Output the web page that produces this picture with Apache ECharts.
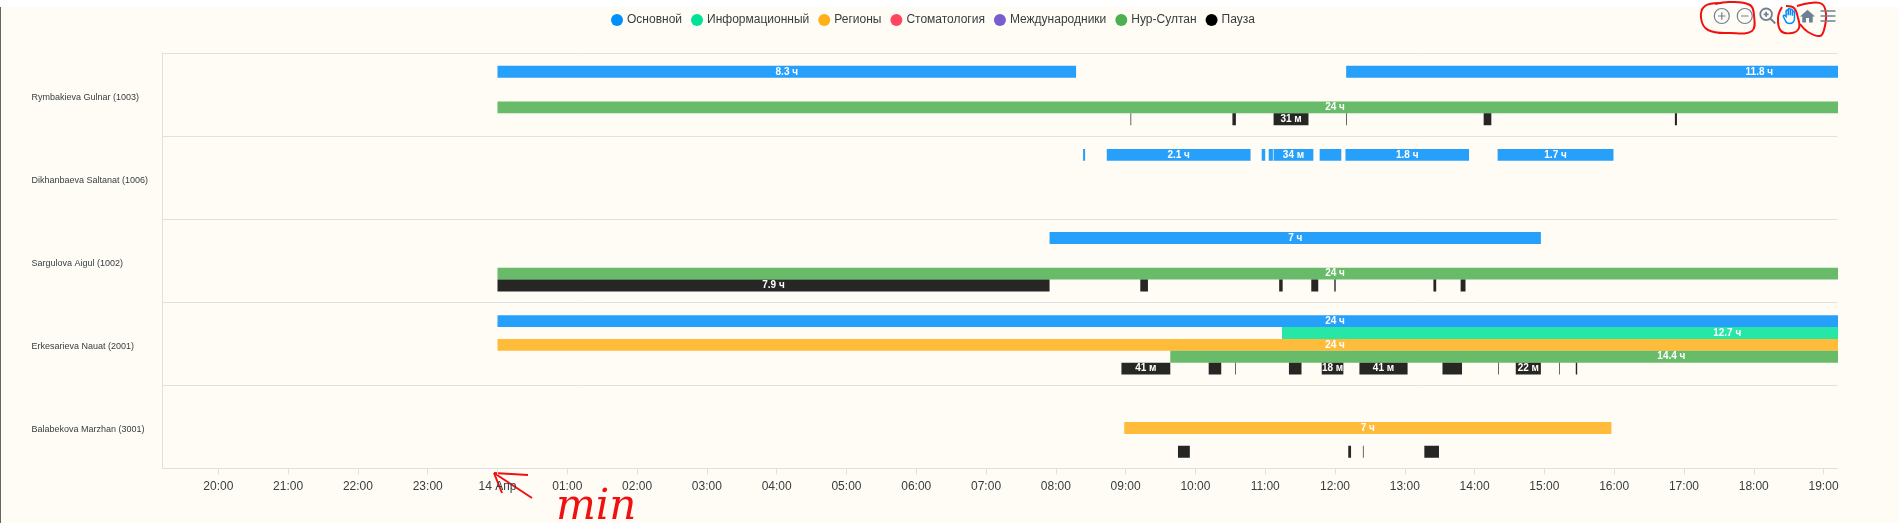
<!DOCTYPE html>
<html>
<head>
<meta charset="utf-8">
<style>
  html, body { margin: 0; padding: 0; background: #fff; overflow: hidden; }
  #paper { position: absolute; left: 0; top: 7px; width: 1897px; height: 516px; background: #fffcf5; border-left: 1px solid #666; }
  #chart { position: absolute; left: 0; top: 0; width: 1898px; height: 527px; }
</style>
</head>
<body>
<div id="paper"></div>
<div id="chart"></div>
<script src="https://cdn.jsdelivr.net/npm/echarts@6/dist/echarts.min.js"></script>
<script>
// hours are counted from 00:00 of 14 Apr, the axis runs 19:12 -> 19:12
var operators = ['Rymbakieva Gulnar (1003)', 'Dikhanbaeva Saltanat (1006)', 'Sargulova Aigul (1002)', 'Erkesarieva Nauat (2001)', 'Balabekova Marzhan (3001)'];
var tickHours = [-4, -3, -2, -1, 0, 1, 2, 3, 4, 5, 6, 7, 8, 9, 10, 11, 12, 13, 14, 15, 16, 17, 18, 19];
var tickLabels = ['20:00', '21:00', '22:00', '23:00', '14 Апр', '01:00', '02:00', '03:00', '04:00', '05:00', '06:00', '07:00', '08:00', '09:00', '10:00', '11:00', '12:00', '13:00', '14:00', '15:00', '16:00', '17:00', '18:00', '19:00'];
var axisMin = -4.8, axisMax = 19.2;

// [row, start, end, label]
var osnovnoy = [
  [0, 0, 8.29, '8.3 ч'], [0, 12.16, 24, '11.8 ч'],
  [1, 8.39, 8.42, ''], [1, 8.73, 10.79, '2.1 ч'], [1, 10.95, 11.0, ''], [1, 11.05, 11.11, ''], [1, 11.12, 11.69, '34 м'],
  [1, 11.78, 12.09, ''], [1, 12.15, 13.92, '1.8 ч'], [1, 14.33, 15.99, '1.7 ч'],
  [2, 7.91, 14.95, '7 ч'],
  [3, 0, 24, '24 ч']
];
var informatsionny = [[3, 11.24, 24, '12.7 ч']];
var regiony = [[3, 0, 24, '24 ч'], [4, 8.98, 15.96, '7 ч']];
var stomatologiya = [];
var mezhdunarodniki = [];
var nurSultan = [[0, 0, 24, '24 ч'], [2, 0, 24, '24 ч'], [3, 9.64, 24, '14.4 ч']];
var pauza = [
  [0, 9.07, 9.08, ''], [0, 10.53, 10.58, ''], [0, 11.12, 11.62, '31 м'], [0, 12.16, 12.17, ''], [0, 14.13, 14.24, ''], [0, 16.87, 16.9, ''],
  [2, 0, 7.91, '7.9 ч'], [2, 9.21, 9.32, ''], [2, 11.2, 11.25, ''], [2, 11.66, 11.76, ''], [2, 11.99, 12.01, ''], [2, 13.41, 13.45, ''], [2, 13.8, 13.87, ''],
  [3, 8.94, 9.64, '41 м'], [3, 10.19, 10.37, ''], [3, 10.57, 10.58, ''], [3, 11.34, 11.52, ''], [3, 11.81, 12.12, '18 м'], [3, 12.35, 13.04, '41 м'],
  [3, 13.54, 13.82, ''], [3, 14.34, 14.35, ''], [3, 14.59, 14.95, '22 м'], [3, 15.21, 15.22, ''], [3, 15.45, 15.47, ''],
  [4, 9.75, 9.92, ''], [4, 12.19, 12.23, ''], [4, 12.4, 12.41, ''], [4, 13.28, 13.49, '']
];

var names = ['Основной', 'Информационный', 'Регионы', 'Стоматология', 'Международники', 'Нур-Султан', 'Пауза'];
var colors = ['#008FFB', '#00E396', '#FEB019', '#FF4560', '#775DD0', '#4CAF50', '#000000'];
var rows = [osnovnoy, informatsionny, regiony, stomatologiya, mezhdunarodniki, nurSultan, pauza];
// vertical lane of each series inside a row, 2 is the middle
var lanes = [0, 1, 2, 2, 2, 3, 4];

function barRenderer(list, lane, color) {
  return function (params, api) {
    var a = api.coord([api.value(1), api.value(0)]);
    var b = api.coord([api.value(2), api.value(0)]);
    var h = api.size([0, 1])[1] * 0.143;
    var text = list[params.dataIndex][3];
    return {
      type: 'rect',
      shape: { x: a[0], y: a[1] + (lane - 2) * h - h / 2 + 1, width: b[0] - a[0], height: h },
      style: { fill: color, opacity: 0.85 },
      textContent: { style: { text: text, fill: '#fff', font: 'bold 10px Helvetica, Arial, sans-serif' } },
      textConfig: { position: 'inside' }
    };
  };
}

var series = names.map(function (name, i) {
  return {
    name: name,
    type: 'custom',
    clip: true,
    itemStyle: { color: colors[i] },
    encode: { x: [1, 2], y: 0 },
    renderItem: barRenderer(rows[i], lanes[i], colors[i]),
    data: rows[i].map(function (r) { return r.slice(0, 3); })
  };
});

var iconGrey = { color: 'none', borderColor: '#6e8192', borderWidth: 1.2 };

// red pen marks somebody drew over the screenshot
function scribble(points) {
  return { type: 'polyline', silent: true, shape: { points: points, smooth: 0.4 }, style: { stroke: '#f01010', lineWidth: 2, fill: 'none' } };
}

var option = {
  animation: false,
  textStyle: { fontFamily: 'Helvetica, Arial, sans-serif' },
  legend: {
    top: 9,
    left: 606,
    icon: 'circle',
    itemWidth: 12,
    itemHeight: 12,
    itemGap: 9,
    textStyle: { fontSize: 12, color: '#373d3f', padding: [0, 0, 0, -1] },
    data: names
  },
  toolbox: {
    right: 45,
    top: -9,
    itemSize: 15,
    itemGap: 3,
    feature: {
      myZoomIn: { show: true, title: '', icon: 'path://M12 2a10 10 0 1 0 0 20a10 10 0 1 0 0-20M7 12h10M12 7v10', iconStyle: iconGrey, onclick: function () {} },
      myZoomOut: { show: true, title: '', icon: 'path://M12 2a10 10 0 1 0 0 20a10 10 0 1 0 0-20M7 12h10', iconStyle: iconGrey, onclick: function () {} },
      mySelect: { show: true, title: '', icon: 'path://M10 3a7 7 0 1 0 0 14a7 7 0 1 0 0-14M15 15l6 6M10 7v6M7 10h6', iconStyle: { color: 'none', borderColor: '#6e8192', borderWidth: 1.8 }, onclick: function () {} },
      myPan: { show: true, title: '', icon: 'path://M7 13V5a1.5 1.5 0 0 1 3 0v6V3a1.5 1.5 0 0 1 3 0v8V4a1.5 1.5 0 0 1 3 0v8V7a1.5 1.5 0 0 1 3 0v9c0 4-3 7-7 7c-3 0-5-1.5-6-4l-3-6c-.5-1.5 1.5-2.5 2.5-1z', iconStyle: { color: 'none', borderColor: '#008FFB', borderWidth: 1.5 }, onclick: function () {} },
      myHome: { show: true, title: '', icon: 'path://M10 20v-6h4v6h5v-8h3L12 3L2 12h3v8z', iconStyle: { color: '#6e8192', borderWidth: 0 }, onclick: function () {} },
      myMenu: { show: true, title: '', icon: 'path://M3 6h18M3 12h18M3 18h18', iconStyle: { color: 'none', borderColor: '#6e8192', borderWidth: 1.6 }, onclick: function () {} }
    }
  },
  grid: { left: 162.5, top: 53, width: 1675, height: 415.5, containLabel: false },
  xAxis: {
    type: 'value',
    min: axisMin,
    max: axisMax,
    splitLine: { show: false },
    axisLine: { show: true, onZero: false, lineStyle: { color: '#e0e0e0' } },
    axisTick: { show: true, length: 6, customValues: tickHours, lineStyle: { color: '#e0e0e0' } },
    axisLabel: {
      customValues: tickHours,
      margin: 12,
      fontSize: 12,
      color: '#373d3f',
      formatter: function (v) { return tickLabels[tickHours.indexOf(v)]; }
    }
  },
  yAxis: {
    type: 'category',
    inverse: true,
    data: operators,
    axisLine: { show: true, onZero: false, lineStyle: { color: '#e0e0e0' } },
    axisTick: { show: false },
    splitLine: { show: true, lineStyle: { color: '#e0e0e0' } },
    axisLabel: { align: 'left', verticalAlign: 'top', lineHeight: 5, margin: 131, fontSize: 9, color: '#373d3f' }
  },
  graphic: [
    scribble([[1722, 3], [1705, 6], [1701, 18], [1708, 30], [1730, 33], [1752, 31], [1754, 15], [1750, 5], [1730, 2], [1715, 4]]),
    scribble([[1782, 7], [1778, 18], [1781, 31], [1792, 33], [1799, 28], [1798, 18], [1794, 8], [1786, 6]]),
    scribble([[1797, 6], [1810, 3], [1822, 4], [1826, 14], [1824, 30], [1820, 36], [1808, 32], [1800, 24]]),
    scribble([[494, 473], [528, 475]]),
    scribble([[494, 473], [502, 493]]),
    scribble([[494, 473], [532, 498]]),
    { type: 'text', silent: true, left: 556, top: 487, style: { text: 'min', fill: '#f01010', font: 'italic 42px "DejaVu Serif"' } }
  ],
  series: series
};

var chart = echarts.init(document.getElementById('chart'));
chart.setOption(option);
</script>
</body>
</html>
